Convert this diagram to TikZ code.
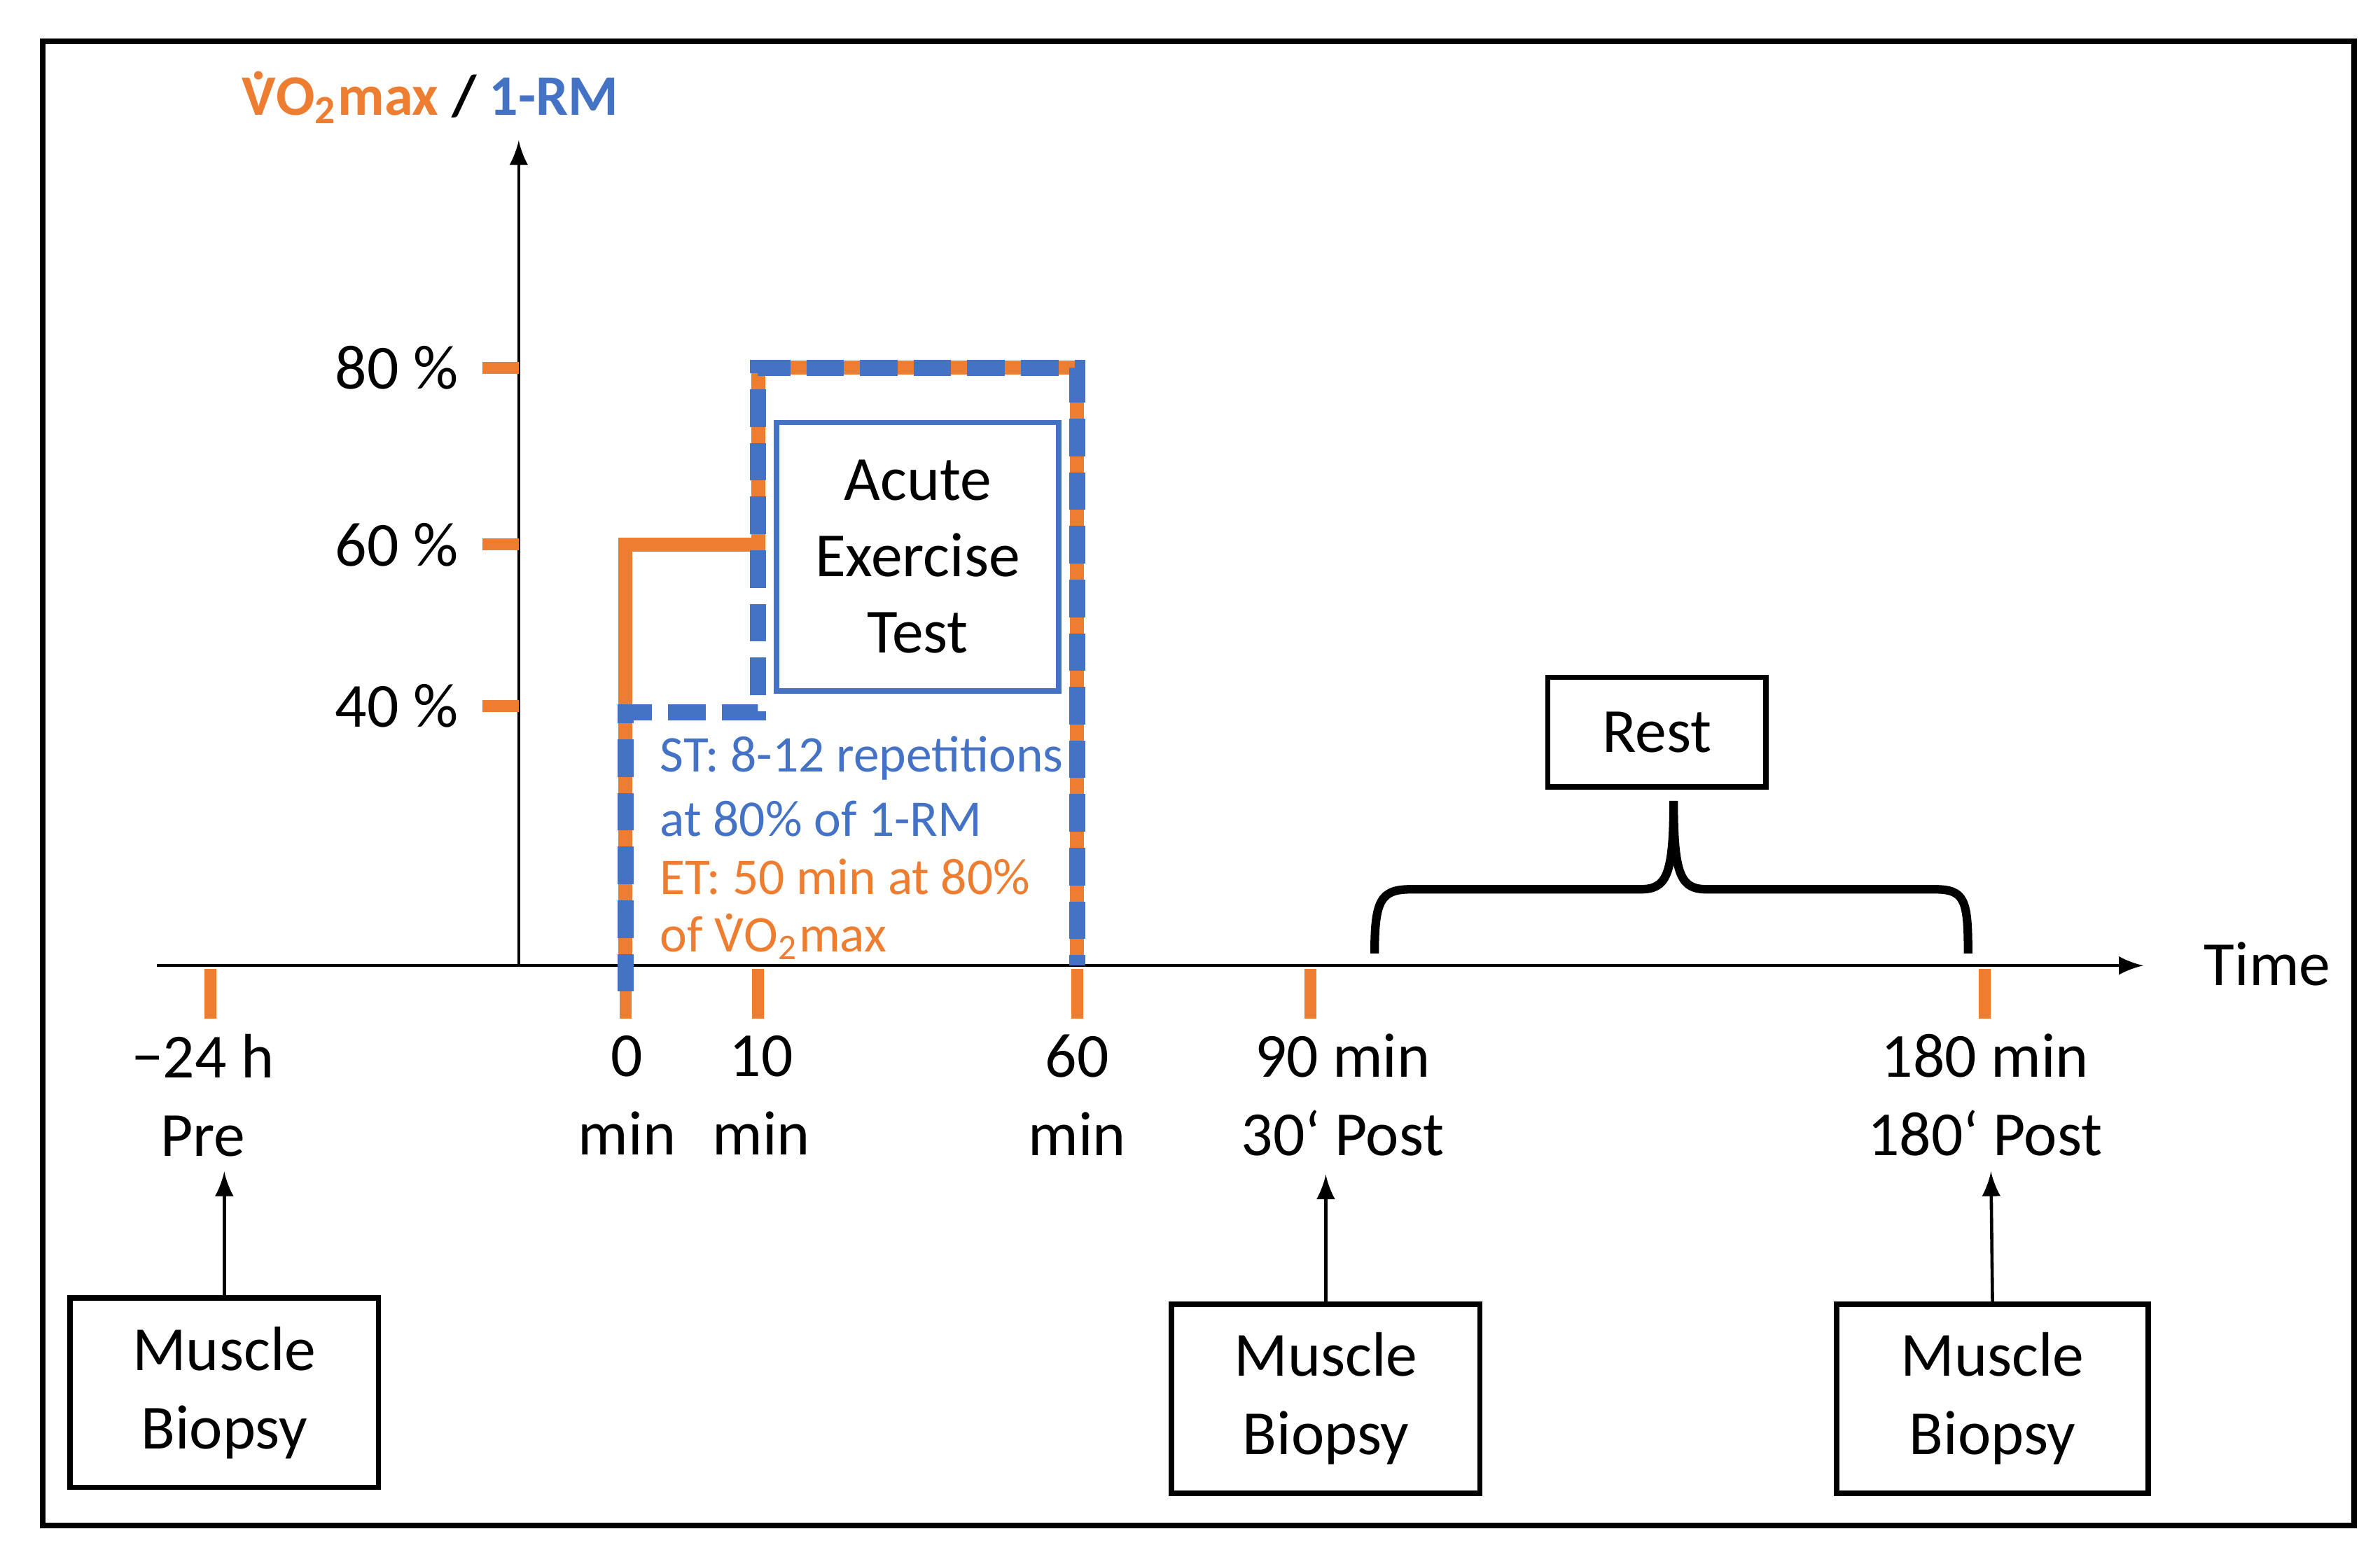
\documentclass[tikz,border=0pt]{standalone}
\usepackage{fontspec}
\setmainfont{Carlito}
\definecolor{org}{RGB}{237,125,49}
\definecolor{blu}{RGB}{68,114,196}
\newcommand{\vdotV}{\ooalign{V\cr\hidewidth\raisebox{0.62em}{.}\hidewidth}}
\begin{document}
\begin{tikzpicture}[x=0.01cm,y=-0.01cm,
  txt/.style={font=\fontsize{11.7}{14.8}\selectfont,align=center},
  box/.style={draw,line width=1pt,txt,inner sep=0},
  small/.style={anchor=west,inner sep=0,font=\fontsize{9.6}{12}\selectfont},
  tick/.style={org,line width=2.2pt},
  ar/.style={-latex,line width=0.6pt}]
\useasboundingbox (0,0) rectangle (1560,1025);
\draw[line width=1pt] (28,27) rectangle (1543,1000);
\coordinate (yb) at (340,633); \coordinate (yt) at (340,92);
\coordinate (xl) at (103,633); \coordinate (xr) at (1405,633);
\draw[ar] (yb) -- (yt);
\draw[ar] (xl) -- (xr);
\node[txt,anchor=west,inner sep=0] (time) at (1444,632) {Time};
\node[font=\fontsize{10.7}{13}\selectfont\bfseries] (title) at (282,65) {\textcolor{org}{\vdotV O\textsubscript{2}max} / \textcolor{blu}{1-RM}};
\foreach \y/\l in {241/80,357/60,463/40}{
  \draw[tick] (316,\y) -- (340,\y);
  \node[txt] at (260,\y) {\l\ \%};}
\foreach \x in {138,410,497,706,859,1301} \draw[tick] (\x,635) -- (\x,668);
\draw[org,line width=2.6pt] (410,650) -- (410,357) -- (497,357) -- (497,241) -- (706,241) -- (706,633);
\draw[blu,line width=3pt,dash pattern=on 7pt off 3pt] (410,650) -- (410,467) -- (497,467) -- (497,241) -- (706,241) -- (706,633);
\draw[blu,line width=1pt] (509,277) rectangle (694,453);
\node[txt,font=\fontsize{11.7}{14.2}\selectfont] (at) at (601.5,365) {Acute\\Exercise\\Test};
\node[small,blu] at (432,497) {ST: 8-12 repetitions};
\node[small,blu] at (432,537) {at 80\% of 1-RM};
\node[small,org] at (432,575) {ET: 50 min at 80\%};
\node[small,org] at (432,615) {of \vdotV O\textsubscript{2}max};
\tikzset{lab/.style={txt,font=\fontsize{11.7}{14.6}\selectfont}}
\node[lab] (l1) at (133,718) {−24 h\\Pre};
\node[lab] (l2) at (411,718) {0\\min};
\node[lab] (l3) at (499,718) {10\\min};
\node[lab] (l4) at (706,718) {60\\min};
\node[lab] (l5) at (880,718) {90 min\\30‘ Post};
\node[lab] (l6) at (1301,718) {180 min\\180‘ Post};
\node[box,font=\fontsize{11.7}{14.6}\selectfont,minimum width=2.02cm,minimum height=1.24cm] (b1) at (147,913) {Muscle\\Biopsy};
\node[box,font=\fontsize{11.7}{14.6}\selectfont,minimum width=2.02cm,minimum height=1.24cm] (b2) at (869,917) {Muscle\\Biopsy};
\node[box,font=\fontsize{11.7}{14.6}\selectfont,minimum width=2.04cm,minimum height=1.24cm] (b3) at (1306,917) {Muscle\\Biopsy};
\draw[ar] (b1.north) -- (147,768);
\draw[ar] (b2.north) -- (869,770);
\draw[ar] (b3.north) -- (1305,768);
\node[box,minimum width=1.43cm,minimum height=0.72cm] (rest) at (1086,480) {Rest};
\draw[line width=1.6pt] (901,625) .. controls (901,590) and (905,583) .. (925,583) -- (1075,583) .. controls (1092,583) and (1097,575) .. (1097,525)
  .. controls (1097,575) and (1102,583) .. (1119,583) -- (1268,583) .. controls (1288,583) and (1290,590) .. (1290,625);
\end{tikzpicture}
\end{document}
